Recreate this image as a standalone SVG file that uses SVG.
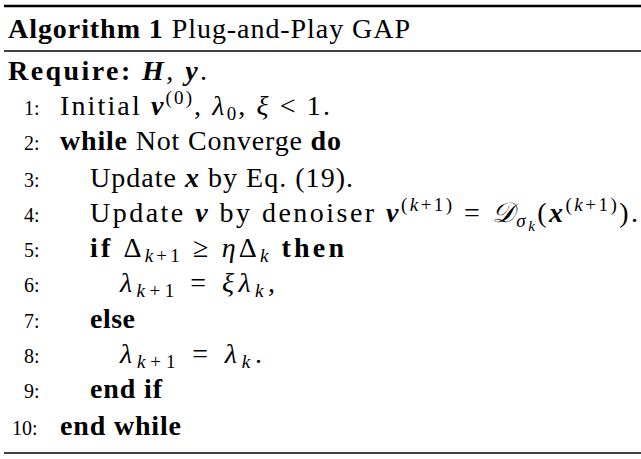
<svg xmlns="http://www.w3.org/2000/svg" width="641" height="459" viewBox="0 0 641 459">
<style>
text{font-family:"Liberation Serif","DejaVu Serif",serif;font-size:28px;fill:#000}
.n{font-size:20px}
.b{font-weight:bold}
.i{font-style:italic}
.bi{font-weight:bold;font-style:italic}
.s{font-size:19px}
.ss{font-size:15px}
line{stroke:#000}
</style>
<rect width="641" height="459" fill="#fff"/>
<line x1="4" y1="6" x2="641" y2="6" stroke-width="2.5"/>
<line x1="4" y1="51" x2="641" y2="51" stroke-width="1.5"/>
<line x1="4" y1="453" x2="641" y2="453" stroke-width="1.5"/>
<text x="8" y="38" textLength="402" lengthAdjust="spacing"><tspan class="b">Algorithm 1</tspan> Plug-and-Play GAP</text>
<text x="8" y="80" textLength="199" lengthAdjust="spacing"><tspan class="b">Require:</tspan>  <tspan class="bi">H</tspan>, <tspan class="bi">y</tspan>.</text>
<g id="lines">
<text class="n" x="24" y="115">1:</text>
<text x="60" y="115" textLength="270" lengthAdjust="spacing">Initial <tspan class="bi">v</tspan><tspan class="s" dy="-11">(0)</tspan><tspan dy="11">, </tspan><tspan class="i">λ</tspan><tspan class="s" dy="5">0</tspan><tspan dy="-5">, </tspan><tspan class="i">ξ</tspan> &lt; 1.</text>
<text class="n" x="24" y="150">2:</text>
<text x="60" y="150" textLength="281" lengthAdjust="spacing"><tspan class="b">while</tspan> Not Converge <tspan class="b">do</tspan></text>
<text class="n" x="24" y="187">3:</text>
<text x="90" y="187" textLength="263" lengthAdjust="spacing">Update <tspan class="bi">x</tspan> by Eq. (19).</text>
<text class="n" x="24" y="222">4:</text>
<text x="90" y="222" textLength="548" lengthAdjust="spacing">Update <tspan class="bi">v</tspan> by denoiser <tspan class="bi">v</tspan><tspan class="s" dy="-11">(<tspan class="i">k</tspan>+1)</tspan><tspan dy="11"> = </tspan><tspan class="i" font-family="DejaVu Serif">𝒟</tspan><tspan class="s i" dy="5">σ</tspan><tspan class="ss i" dy="4">k</tspan><tspan dy="-9">(</tspan><tspan class="bi">x</tspan><tspan class="s" dy="-11">(<tspan class="i">k</tspan>+1)</tspan><tspan dy="11">).</tspan></text>
<text class="n" x="24" y="257">5:</text>
<text x="90" y="257" textLength="254" lengthAdjust="spacing"><tspan class="b">if</tspan> Δ<tspan class="s i" dy="5">k</tspan><tspan class="s">+1</tspan><tspan dy="-5"> ≥ </tspan><tspan class="i">η</tspan>Δ<tspan class="s i" dy="5">k</tspan><tspan dy="-5"> </tspan><tspan class="b">then</tspan></text>
<text class="n" x="24" y="292">6:</text>
<text x="120" y="292" textLength="155" lengthAdjust="spacing"><tspan class="i">λ</tspan><tspan class="s" dy="5"><tspan class="i">k</tspan>+1</tspan><tspan dy="-5"> = </tspan><tspan class="i">ξλ</tspan><tspan class="s i" dy="5">k</tspan><tspan dy="-5">,</tspan></text>
<text class="n" x="24" y="328">7:</text>
<text x="90" y="328" class="b" textLength="45" lengthAdjust="spacing">else</text>
<text class="n" x="24" y="363">8:</text>
<text x="120" y="363" textLength="142" lengthAdjust="spacing"><tspan class="i">λ</tspan><tspan class="s" dy="5"><tspan class="i">k</tspan>+1</tspan><tspan dy="-5"> = </tspan><tspan class="i">λ</tspan><tspan class="s i" dy="5">k</tspan><tspan dy="-5">.</tspan></text>
<text class="n" x="24" y="398">9:</text>
<text x="90" y="398" class="b" textLength="72" lengthAdjust="spacing">end if</text>
<text class="n" x="12" y="435">10:</text>
<text x="60" y="435" class="b" textLength="121" lengthAdjust="spacing">end while</text>
</g>
</svg>
